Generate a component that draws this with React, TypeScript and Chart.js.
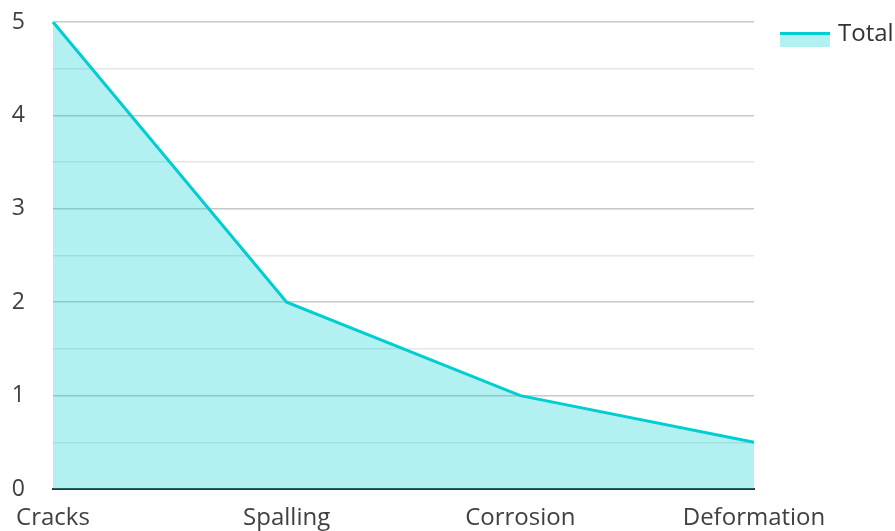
import React, { useEffect, useRef } from "react";
import { Chart, registerables } from "chart.js";

Chart.register(...registerables);

const categories = ["Cracks", "Spalling", "Corrosion", "Deformation"];
const totals = [5, 2, 1, 0.5];
const seriesName = "Total";
const lineColor = "#00CED1";
const fillColor = "rgba(0,206,209,0.3)";
const fontFamily = "'Open Sans', 'Noto Sans', sans-serif";

const legendPlugin = {
  id: "customLegend",
  afterDraw(chart: any) {
    const ctx = chart.ctx;
    const x = chart.chartArea.right + 26;
    const y = 32;
    ctx.save();
    ctx.fillStyle = fillColor;
    ctx.fillRect(x, y, 50, 15);
    ctx.fillStyle = lineColor;
    ctx.fillRect(x, y, 50, 3);
    ctx.fillStyle = "#333333";
    ctx.font = `24px ${fontFamily}`;
    ctx.textBaseline = "middle";
    ctx.textAlign = "left";
    ctx.fillText(seriesName, x + 58, 34);
    ctx.restore();
  },
};

export default function App() {
  const ref = useRef<HTMLCanvasElement>(null);
  useEffect(() => {
    if (!ref.current) return;
    const chart = new Chart(ref.current, {
      type: "line",
      data: {
        labels: categories,
        datasets: [
          {
            label: seriesName,
            data: totals,
            borderColor: lineColor,
            backgroundColor: fillColor,
            borderWidth: 3,
            fill: "origin",
            tension: 0,
            pointRadius: 0,
          },
        ],
      },
      options: {
        responsive: false,
        animation: false,
        layout: { padding: { top: 22, right: 141, bottom: 0, left: 0 } },
        plugins: { legend: { display: false }, tooltip: { enabled: false } },
        scales: {
          x: {
            grid: { display: false, drawTicks: false },
            border: { display: true, color: "#333333", width: 2 },
            afterFit: (scale: any) => {
              scale.height = 42;
            },
            ticks: {
              padding: 15,
              color: "#404040",
              font: { family: fontFamily, size: 24 },
              maxRotation: 0,
              autoSkip: false,
            },
          },
          y: {
            min: 0,
            max: 5,
            afterFit: (scale: any) => {
              scale.width = 53;
              scale.paddingTop = 0;
              scale.paddingBottom = 0;
            },
            border: { display: false },
            grid: {
              drawTicks: false,
              color: (c: any) =>
                c.tick && Number.isInteger(c.tick.value) ? "#c8c8c8" : "#e6e6e6",
              lineWidth: 1.5,
            },
            ticks: {
              stepSize: 0.5,
              padding: 28,
              color: "#404040",
              font: { family: fontFamily, size: 23 },
              callback: (v: any) => (Number.isInteger(v) ? String(v) : ""),
            },
          },
        },
      },
      plugins: [legendPlugin],
    });
    return () => chart.destroy();
  }, []);
  return (
    <div style={{ position: "absolute", left: 0, top: 0, width: 895, height: 531 }}>
      <canvas ref={ref} width={895} height={531} />
    </div>
  );
}
